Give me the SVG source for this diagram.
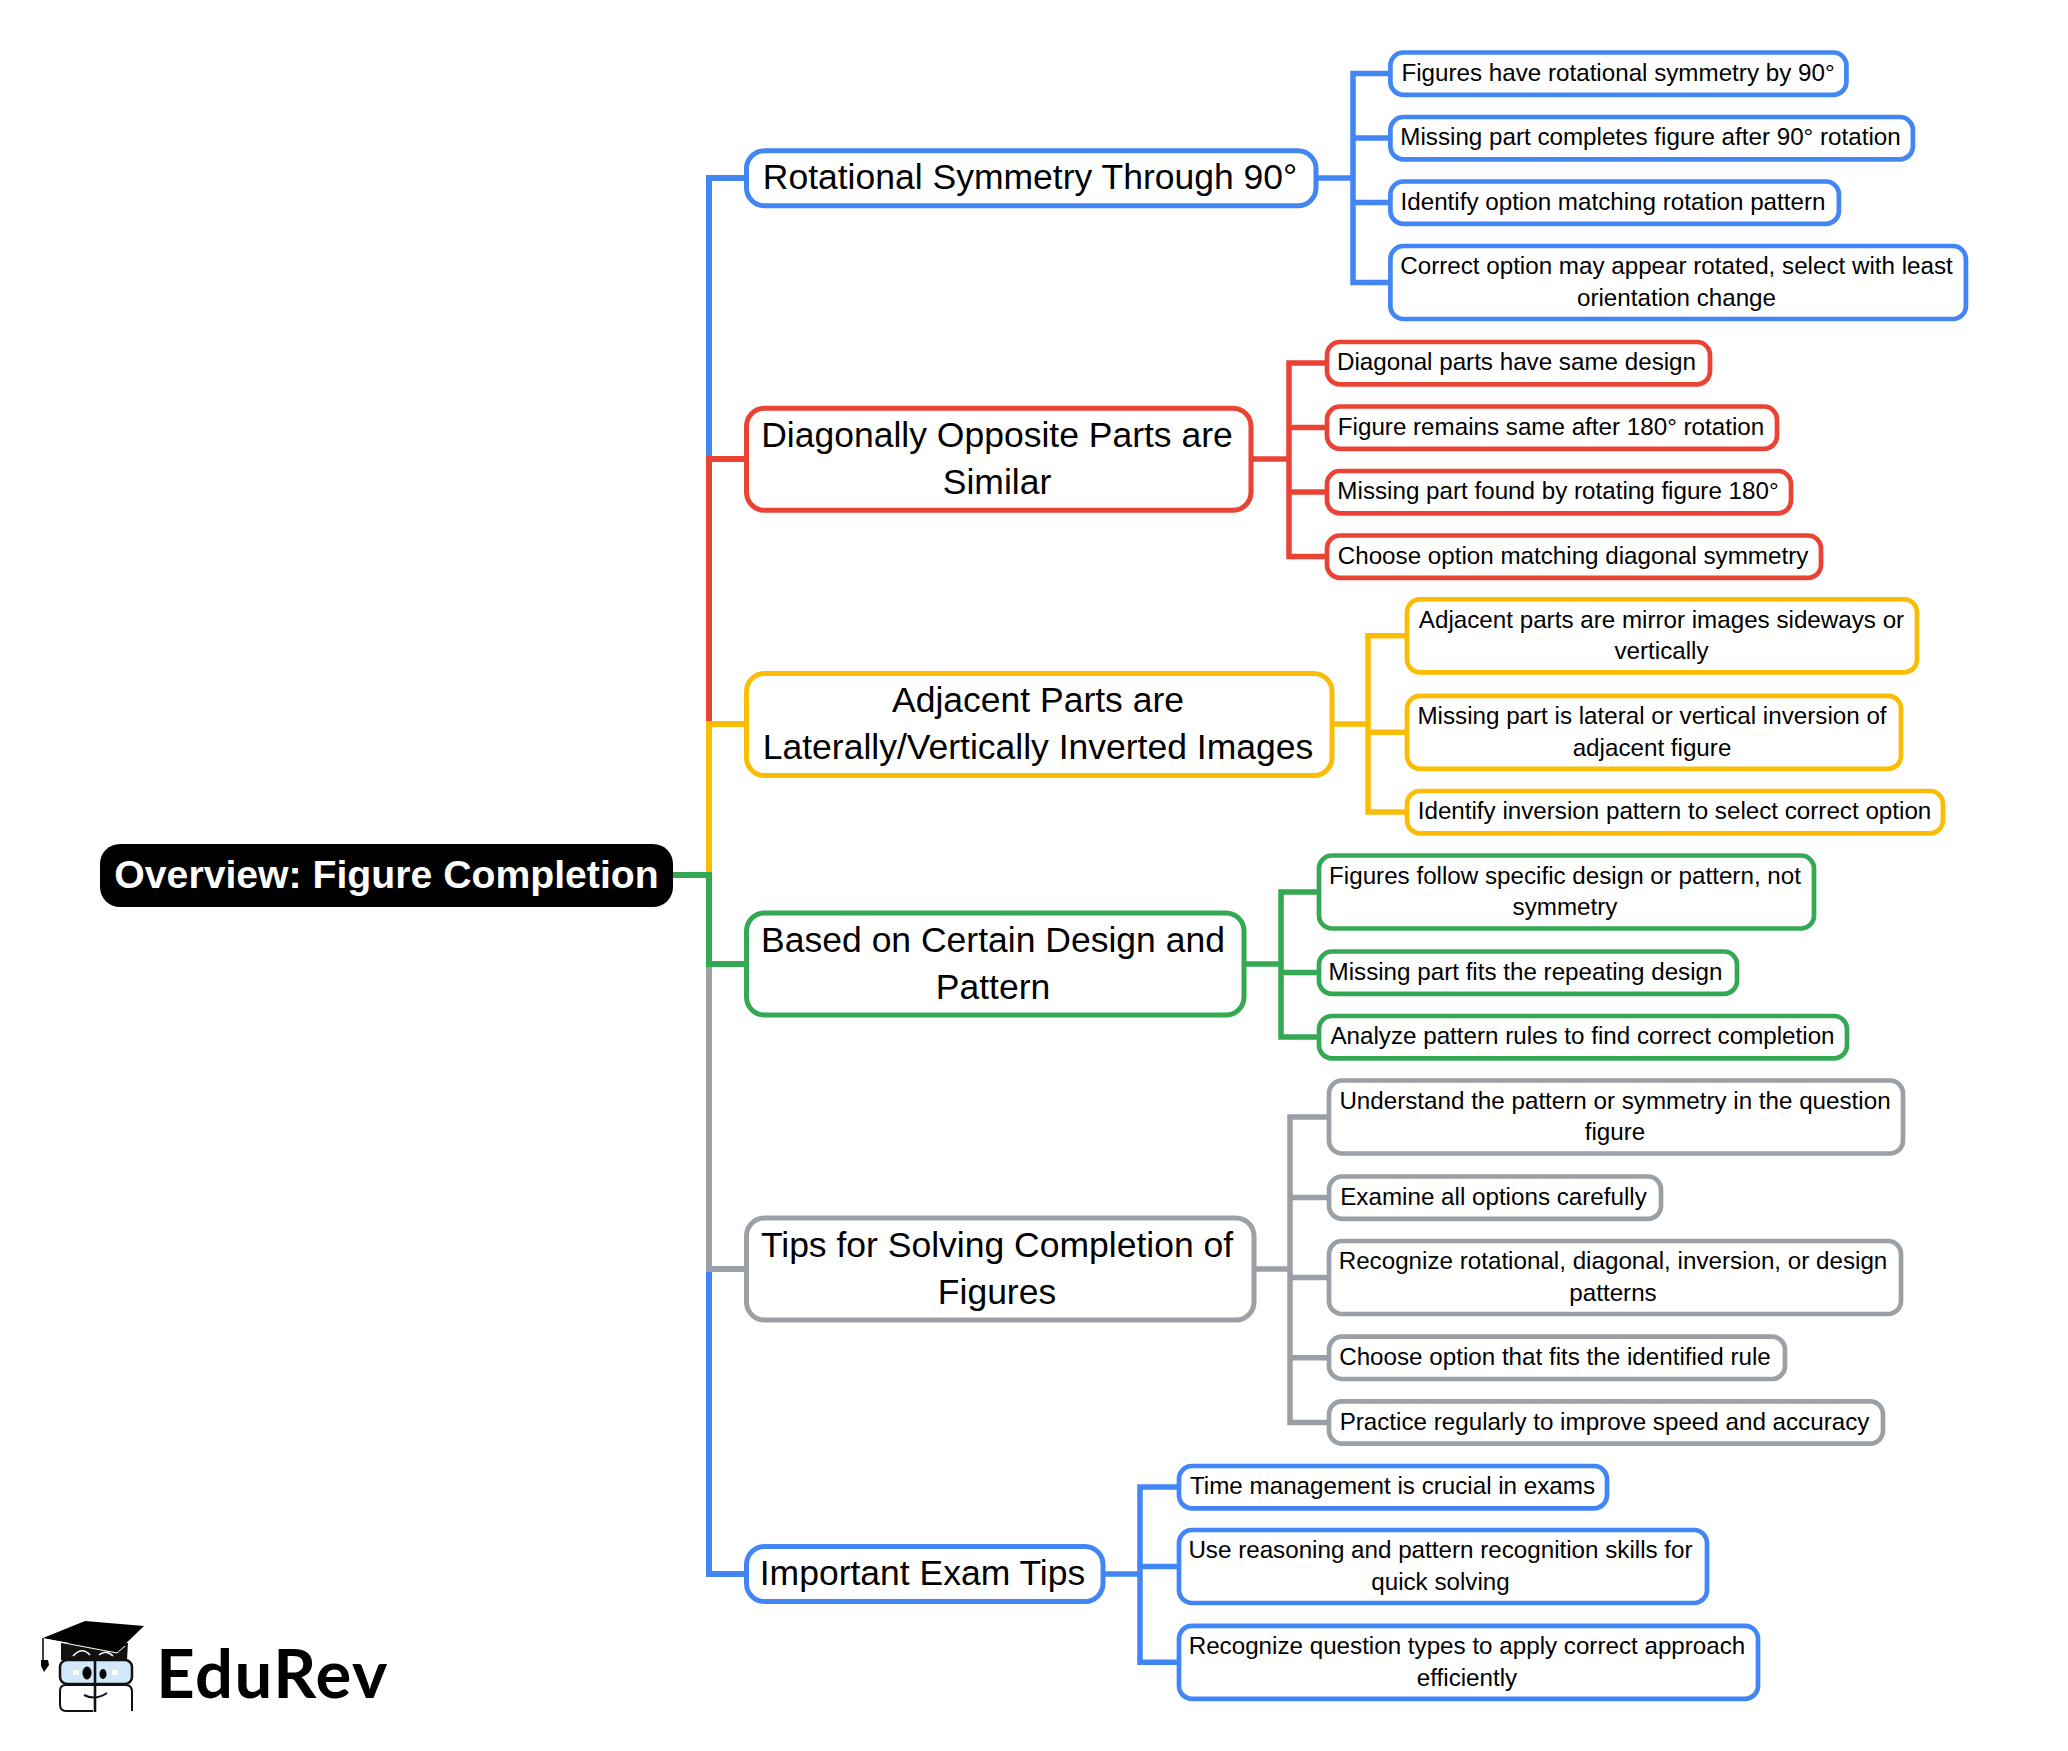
<svg xmlns="http://www.w3.org/2000/svg" width="2068" height="1751" viewBox="0 0 2068 1751">
<style>
text{font-family:"Liberation Sans",Arial,sans-serif;text-anchor:middle;fill:#000}
.l1 rect{fill:#fff;stroke-width:5}
.l2 rect{fill:#fff;stroke-width:4.7}
.l1 text{font-size:35.5px}
.l2 text{font-size:24.2px}
.b rect{stroke:#4285f4}.r rect{stroke:#ea4335}.y rect{stroke:#fbbc04}.g rect{stroke:#34a853}.k rect{stroke:#9aa0a6}
#connectors path{fill:none;stroke-width:5.5}
#connectors path.t{stroke-width:6}
.cb{stroke:#4285f4}.cr{stroke:#ea4335}.cy{stroke:#fbbc04}.cg{stroke:#34a853}.ck{stroke:#9aa0a6}
</style>
<rect width="2068" height="1751" fill="#fff"/>
<g id="connectors">
<path class="cb t" d="M673 875H709V1574H745"/>
<path class="ck t" d="M673 875H709V1269H745"/>
<path class="cb t" d="M673 875H709V178H745"/>
<path class="cr t" d="M673 875H709V459H745"/>
<path class="cy t" d="M673 875H709V724H745"/>
<path class="cg t" d="M673 875H709V964H745"/>
<path class="cb" d="M1316 178H1353M1389 73.6H1353V282.5H1389M1353 138H1389M1353 202.6H1389"/>
<path class="cr" d="M1253 459H1289M1326 363H1289V556.6H1326M1289 427.6H1326M1289 492H1326"/>
<path class="cy" d="M1332 724H1368M1406 635.8H1368V812.1H1406M1368 732.3H1406"/>
<path class="cg" d="M1244 964H1281M1318 892H1281V1037.1H1318M1281 972.6H1318"/>
<path class="ck" d="M1254 1269H1290M1328 1117H1290V1422.4H1328M1290 1197.6H1328M1290 1277.5H1328M1290 1357.8H1328"/>
<path class="cb" d="M1103 1574H1140M1178 1487H1140V1662.3H1178M1140 1566.5H1178"/>
</g>
<g id="root"><rect x="100" y="844" width="573" height="63" rx="20" fill="#000"/><text x="386.5" y="887.5" font-size="39.2" font-weight="700" style="fill:#fff">Overview: Figure Completion</text></g>
<g id="n1" class="l1 b"><rect x="746.5" y="150.8" width="569.5" height="55" rx="18"/><text x="1030" y="188.8">Rotational Symmetry Through 90°</text></g>
<g id="n2" class="l1 r"><rect x="746.5" y="408.3" width="504.5" height="102" rx="18"/><text x="997" y="446.5">Diagonally Opposite Parts are</text><text x="997" y="494">Similar</text></g>
<g id="n3" class="l1 y"><rect x="746.5" y="673.5" width="585.5" height="102" rx="18"/><text x="1038" y="711.5">Adjacent Parts are</text><text x="1038" y="758.5">Laterally/Vertically Inverted Images</text></g>
<g id="n4" class="l1 g"><rect x="746.5" y="913" width="497.5" height="102" rx="18"/><text x="993" y="951.5">Based on Certain Design and</text><text x="993" y="999">Pattern</text></g>
<g id="n5" class="l1 k"><rect x="746.5" y="1218" width="507.5" height="102" rx="18"/><text x="997" y="1256.5">Tips for Solving Completion of</text><text x="997" y="1303.5">Figures</text></g>
<g id="n6" class="l1 b"><rect x="746.5" y="1546.5" width="356.5" height="55" rx="18"/><text x="922.5" y="1584.5">Important Exam Tips</text></g>
<g id="n1a" class="l2 b"><rect x="1390.4" y="52.5" width="456" height="42.3" rx="13"/><text x="1618" y="80.8">Figures have rotational symmetry by 90°</text></g>
<g id="n1b" class="l2 b"><rect x="1390.4" y="117" width="522.5" height="42.3" rx="13"/><text x="1650.5" y="145.3">Missing part completes figure after 90° rotation</text></g>
<g id="n1c" class="l2 b"><rect x="1390.4" y="181.5" width="448.5" height="42.3" rx="13"/><text x="1613" y="209.8">Identify option matching rotation pattern</text></g>
<g id="n1d" class="l2 b"><rect x="1390.4" y="246" width="575.5" height="73" rx="13"/><text x="1676.5" y="274.3">Correct option may appear rotated, select with least</text><text x="1676.5" y="305.7">orientation change</text></g>
<g id="n2a" class="l2 r"><rect x="1327" y="342" width="383" height="42.3" rx="13"/><text x="1516.5" y="370.3">Diagonal parts have same design</text></g>
<g id="n2b" class="l2 r"><rect x="1327" y="406.5" width="450" height="42.3" rx="13"/><text x="1551" y="434.8">Figure remains same after 180° rotation</text></g>
<g id="n2c" class="l2 r"><rect x="1327" y="471" width="464" height="42.3" rx="13"/><text x="1558" y="499.3">Missing part found by rotating figure 180°</text></g>
<g id="n2d" class="l2 r"><rect x="1327" y="535.5" width="494" height="42.3" rx="13"/><text x="1573" y="563.8">Choose option matching diagonal symmetry</text></g>
<g id="n3a" class="l2 y"><rect x="1407" y="599.3" width="510" height="73" rx="13"/><text x="1661.5" y="627.6">Adjacent parts are mirror images sideways or</text><text x="1661.5" y="659">vertically</text></g>
<g id="n3b" class="l2 y"><rect x="1407" y="695.8" width="494" height="73" rx="13"/><text x="1652" y="724.1">Missing part is lateral or vertical inversion of</text><text x="1652" y="755.5">adjacent figure</text></g>
<g id="n3c" class="l2 y"><rect x="1407" y="791" width="536" height="42.3" rx="13"/><text x="1674.5" y="819.3">Identify inversion pattern to select correct option</text></g>
<g id="n4a" class="l2 g"><rect x="1319" y="855.5" width="495" height="73" rx="13"/><text x="1565" y="883.8">Figures follow specific design or pattern, not</text><text x="1565" y="915.2">symmetry</text></g>
<g id="n4b" class="l2 g"><rect x="1319" y="951.5" width="418" height="42.3" rx="13"/><text x="1525.5" y="979.8">Missing part fits the repeating design</text></g>
<g id="n4c" class="l2 g"><rect x="1319" y="1016" width="528" height="42.3" rx="13"/><text x="1582.5" y="1044.3">Analyze pattern rules to find correct completion</text></g>
<g id="n5a" class="l2 k"><rect x="1329" y="1080.5" width="574" height="73" rx="13"/><text x="1615" y="1108.8">Understand the pattern or symmetry in the question</text><text x="1615" y="1140.2">figure</text></g>
<g id="n5b" class="l2 k"><rect x="1329" y="1176.5" width="332" height="42.3" rx="13"/><text x="1493.5" y="1204.8">Examine all options carefully</text></g>
<g id="n5c" class="l2 k"><rect x="1329" y="1241" width="572" height="73" rx="13"/><text x="1613" y="1269.3">Recognize rotational, diagonal, inversion, or design</text><text x="1613" y="1300.7">patterns</text></g>
<g id="n5d" class="l2 k"><rect x="1329" y="1336.7" width="456" height="42.3" rx="13"/><text x="1555" y="1365">Choose option that fits the identified rule</text></g>
<g id="n5e" class="l2 k"><rect x="1329" y="1401.3" width="554" height="42.3" rx="13"/><text x="1604.5" y="1429.6">Practice regularly to improve speed and accuracy</text></g>
<g id="n6a" class="l2 b"><rect x="1179" y="1466" width="428" height="42.3" rx="13"/><text x="1392.5" y="1494.3">Time management is crucial in exams</text></g>
<g id="n6b" class="l2 b"><rect x="1179" y="1530" width="528" height="73" rx="13"/><text x="1440.5" y="1558.3">Use reasoning and pattern recognition skills for</text><text x="1440.5" y="1589.7">quick solving</text></g>
<g id="n6c" class="l2 b"><rect x="1179" y="1625.8" width="579" height="73" rx="13"/><text x="1467" y="1654.1">Recognize question types to apply correct approach</text><text x="1467" y="1685.5">efficiently</text></g>
<g id="logo">
<path d="M61 1643L128 1643L127 1660H61Z" fill="#111"/>
<path d="M73 1656Q82 1646 90 1655M99 1655Q106 1649 113 1656" fill="none" stroke="#fff" stroke-width="1.5"/>
<path d="M43 1638L85 1621L144 1626L117 1652Z" fill="#000"/>
<path d="M43 1639L117 1653L125 1646" fill="none" stroke="#fff" stroke-width="1"/>
<path d="M43 1638V1660" stroke="#000" stroke-width="1.5"/>
<path d="M41 1660H48L49 1665L44 1672L41 1666Z" fill="#000"/>
<rect x="60" y="1660" width="72" height="24" rx="7" fill="#d0e8f7" stroke="#111" stroke-width="2.5"/>
<path d="M66 1711Q60 1711 60 1704V1691Q60 1685 66 1685H126Q132 1685 132 1692V1711M66 1711H93" fill="none" stroke="#111" stroke-width="2"/>
<path d="M95 1656V1712" stroke="#111" stroke-width="2.6"/>
<ellipse cx="87" cy="1673" rx="4.5" ry="6.5" fill="#000"/><ellipse cx="103" cy="1674" rx="3.5" ry="5" fill="#000"/>
<path d="M73 1670h6v5h-6zM112 1670h6v5h-6z" fill="#fff"/>
<path d="M84 1695Q95 1701 107 1693" fill="none" stroke="#111" stroke-width="2"/>
<text x="272.5" y="1698" font-size="67" font-weight="700" letter-spacing="1.5" style="font-family:Lato,sans-serif">EduRev</text>
</g>
</svg>
